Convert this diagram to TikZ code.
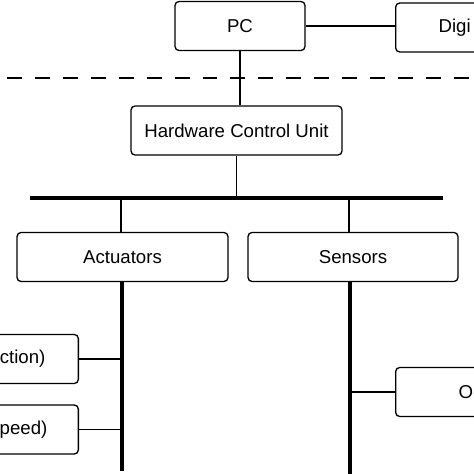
\documentclass[tikz,border=0pt]{standalone}
\usepackage{fontspec}
\setmainfont{Liberation Sans}
\usetikzlibrary{calc,positioning}

\tikzset{
  unitbox/.style={draw, rounded corners=0.08cm, line width=0.75pt, minimum height=0.98cm,
    inner ysep=0pt, font=\fontsize{10.6}{12}\selectfont},
  link/.style={line width=0.6pt},
  busline/.style={line width=2.2pt},
  riser/.style={line width=2.6pt},
  border/.style={line width=0.7pt, dash pattern=on 8.5pt off 7.4pt}
}

\begin{document}
\begin{tikzpicture}[x=0.02cm, y=-0.02cm]
\useasboundingbox (0,0) rectangle (474,474);
\clip (0,0) rectangle (474,474);

% upper level
\node[unitbox, minimum width=2.6cm] (PC) at (240,26) {PC};
\node[unitbox, anchor=west, inner xsep=0.86cm] (Digi) at (395,27.5) {Digi};
\draw[link] (PC.east) -- (PC.east -| Digi.west);

% dashed border
\coordinate (dashL) at (7,78);
\coordinate (dashR) at (480,78);
\draw[border] (dashL) -- (dashR);

% hardware control unit
\node[unitbox, minimum width=4.22cm] (HCU) at (236.5,130.5) {Hardware Control Unit};
\draw[link] (PC.south) -- (PC.south |- HCU.north);

% bus
\coordinate (busL) at (30,198);
\coordinate (busR) at (443,198);
\draw[busline] (busL) -- (busR);
\draw[link] (HCU.south) -- (HCU.south |- busL);

% actuators and sensors
\node[unitbox, minimum width=4.22cm] (Act) at (122.5,257) {Actuators};
\node[unitbox, minimum width=4.2cm] (Sen) at (353,257) {Sensors};
\coordinate (actTop) at (121,198);
\coordinate (senTop) at (349,198);
\draw[link] (actTop) -- (actTop |- Act.north);
\draw[link] (senTop) -- (senTop |- Sen.north);

% risers
\coordinate (actEnd) at (122,471);
\coordinate (senEnd) at (350,480);
\draw[riser] (actEnd |- Act.south) -- (actEnd);
\draw[riser] (senEnd |- Sen.south) -- (senEnd);

% devices
\node[unitbox, anchor=east, inner xsep=0.66cm] (Dir) at (79,359) {ction)};
\node[unitbox, anchor=east, inner xsep=0.62cm] (Spd) at (79,429.5) {peed)};
\node[unitbox, anchor=west, inner xsep=1.26cm] (Out) at (395,392) {O-};
\draw[link] (Dir.east) -- (Dir.east -| actEnd);
\draw[link] (Spd.east) -- (Spd.east -| actEnd);
\draw[link] (Out.west) -- (Out.west -| senEnd);
\end{tikzpicture}
\end{document}
